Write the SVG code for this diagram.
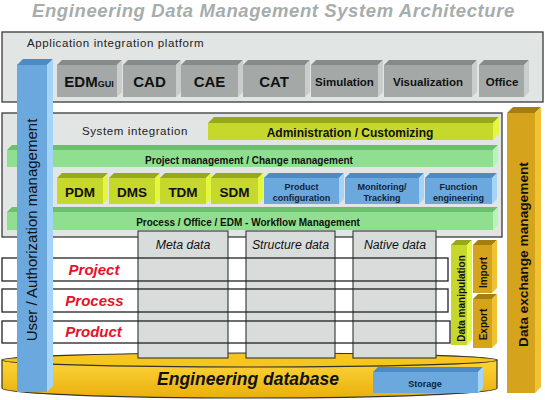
<svg xmlns="http://www.w3.org/2000/svg" width="545" height="400" viewBox="0 0 545 400">
<defs>
<linearGradient id="discG" x1="0" y1="0" x2="0" y2="1">
<stop offset="0" stop-color="#fdd43a"/>
<stop offset="1" stop-color="#eab00c"/>
</linearGradient>
</defs>
<style>
text{font-family:"Liberation Sans",Arial,sans-serif;fill:#111}
.panel{fill:#e1e5e4;stroke:#3a3a3a;stroke-width:1.3}
.gf{fill:#a4a9a8}.gt{fill:#858b8a}.gs{fill:#c9cdcc}
.yf{fill:#c6d82b}.yt{fill:#97a81a}.ys{fill:#e5f63e}
.nf{fill:#90df90}.nt{fill:#6cbf6c}.ns{fill:#b8f4b8}
.bf{fill:#6ba8de}.bt{fill:#4d8bc4}.bs{fill:#a4d4f7}
.of{fill:#d5a41c}.ot{fill:#a57e10}.os{fill:#f1c232}
.col{fill:#d8dcdb;stroke:#333;stroke-width:1.1}
.row{fill:none;stroke:#222;stroke-width:1.3}
.big{font-size:15px;font-weight:bold;text-anchor:middle}
.mid{font-size:11.5px;font-weight:bold;text-anchor:middle}
.sm{font-size:9px;font-weight:bold;text-anchor:middle;fill:#10233a}
.bar{font-size:10px;font-weight:bold;text-anchor:middle}
.lbl{font-size:11.5px;letter-spacing:0.6px;fill:#222}
.ital{font-size:12.3px;font-style:italic;text-anchor:middle}
.red{font-size:15px;font-weight:bold;font-style:italic;fill:#e8102a;text-anchor:middle}
.rot{font-weight:bold;text-anchor:middle}
</style>
<rect width="545" height="400" fill="#ffffff"/>
<text x="32" y="17" font-size="18.5" font-weight="bold" font-style="italic" letter-spacing="0.6" style="fill:#a6adac">Engineering Data Management System Architecture</text>

<g id="app-platform">
<rect class="panel" x="2" y="32" width="541" height="70"/>
<text class="lbl" x="27" y="47">Application integration platform</text>
</g>
<g id="edmgui"><rect class="gf" x="57" y="65" width="60" height="32"/><path class="gt" d="M57,65 l5,-5 h60 l-5,5 z"/><path class="gs" d="M117,65 l5,-5 v32 l-5,5 z"/><text class="big" x="89" y="86.5">EDM<tspan font-size="9">GUI</tspan></text></g>
<g id="cad"><rect class="gf" x="123" y="65" width="53" height="32"/><path class="gt" d="M123,65 l5,-5 h53 l-5,5 z"/><path class="gs" d="M176,65 l5,-5 v32 l-5,5 z"/><text class="big" x="149.5" y="86.5">CAD</text></g>
<g id="cae"><rect class="gf" x="181" y="65" width="57" height="32"/><path class="gt" d="M181,65 l5,-5 h57 l-5,5 z"/><path class="gs" d="M238,65 l5,-5 v32 l-5,5 z"/><text class="big" x="209.5" y="86.5">CAE</text></g>
<g id="cat"><rect class="gf" x="243" y="65" width="62" height="32"/><path class="gt" d="M243,65 l5,-5 h62 l-5,5 z"/><path class="gs" d="M305,65 l5,-5 v32 l-5,5 z"/><text class="big" x="274" y="86.5">CAT</text></g>
<g id="simulation"><rect class="gf" x="311" y="65" width="67" height="32"/><path class="gt" d="M311,65 l5,-5 h67 l-5,5 z"/><path class="gs" d="M378,65 l5,-5 v32 l-5,5 z"/><text class="mid" x="344.5" y="85.5">Simulation</text></g>
<g id="visualization"><rect class="gf" x="384" y="65" width="88" height="32"/><path class="gt" d="M384,65 l5,-5 h88 l-5,5 z"/><path class="gs" d="M472,65 l5,-5 v32 l-5,5 z"/><text class="mid" x="428" y="85.5">Visualization</text></g>
<g id="office"><rect class="gf" x="479" y="65" width="45" height="32"/><path class="gt" d="M479,65 l5,-5 h45 l-5,5 z"/><path class="gs" d="M524,65 l5,-5 v32 l-5,5 z"/><text class="mid" x="502" y="85.5">Office</text></g>

<g id="system-integration">
<rect class="panel" x="2" y="113" width="500" height="124"/>
<text class="lbl" x="82" y="135">System integration</text>
</g>
<g id="administration"><rect class="yf" x="208" y="123" width="285" height="17"/><path class="yt" d="M208,123 l6,-6 h285 l-6,6 z"/><path class="ys" d="M493,123 l6,-6 v17 l-6,6 z"/><text x="350" y="136.5" font-size="12" font-weight="bold" text-anchor="middle">Administration / Customizing</text></g>
<g id="project-management"><rect class="nf" x="7" y="150" width="486" height="17"/><path class="nt" d="M7,150 l5,-5 h486 l-5,5 z"/><path class="ns" d="M493,150 l5,-5 v17 l-5,5 z"/><text class="bar" x="249" y="163.5">Project management / Change management</text></g>
<g id="pdm"><rect class="yf" x="57" y="178" width="46" height="26"/><path class="yt" d="M57,178 l5,-5 h46 l-5,5 z"/><path class="ys" d="M103,178 l5,-5 v26 l-5,5 z"/><text x="80" y="196.5" font-size="13.5" font-weight="bold" text-anchor="middle">PDM</text></g>
<g id="dms"><rect class="yf" x="109" y="178" width="46" height="26"/><path class="yt" d="M109,178 l5,-5 h46 l-5,5 z"/><path class="ys" d="M155,178 l5,-5 v26 l-5,5 z"/><text x="132" y="196.5" font-size="13.5" font-weight="bold" text-anchor="middle">DMS</text></g>
<g id="tdm"><rect class="yf" x="160" y="178" width="46" height="26"/><path class="yt" d="M160,178 l5,-5 h46 l-5,5 z"/><path class="ys" d="M206,178 l5,-5 v26 l-5,5 z"/><text x="183" y="196.5" font-size="13.5" font-weight="bold" text-anchor="middle">TDM</text></g>
<g id="sdm"><rect class="yf" x="211" y="178" width="47" height="26"/><path class="yt" d="M211,178 l5,-5 h47 l-5,5 z"/><path class="ys" d="M258,178 l5,-5 v26 l-5,5 z"/><text x="234.5" y="196.5" font-size="13.5" font-weight="bold" text-anchor="middle">SDM</text></g>
<g id="product-configuration"><rect class="bf" x="264" y="178" width="75" height="26"/><path class="bt" d="M264,178 l5,-5 h75 l-5,5 z"/><path class="bs" d="M339,178 l5,-5 v26 l-5,5 z"/><text class="sm" x="301.5" y="189.5">Product</text><text class="sm" x="301.5" y="200.5">configuration</text></g>
<g id="monitoring-tracking"><rect class="bf" x="345" y="178" width="74" height="26"/><path class="bt" d="M345,178 l5,-5 h74 l-5,5 z"/><path class="bs" d="M419,178 l5,-5 v26 l-5,5 z"/><text class="sm" x="382" y="189.5">Monitoring/</text><text class="sm" x="382" y="200.5">Tracking</text></g>
<g id="function-engineering"><rect class="bf" x="425" y="178" width="67" height="26"/><path class="bt" d="M425,178 l5,-5 h67 l-5,5 z"/><path class="bs" d="M492,178 l5,-5 v26 l-5,5 z"/><text class="sm" x="458.5" y="189.5">Function</text><text class="sm" x="458.5" y="200.5">engineering</text></g>
<g id="workflow-management"><rect class="nf" x="7" y="212" width="486" height="18"/><path class="nt" d="M7,212 l5,-5 h486 l-5,5 z"/><path class="ns" d="M493,212 l5,-5 v18 l-5,5 z"/><text class="bar" x="248" y="225.5">Process / Office / EDM - Workflow Management</text></g>

<g id="engineering-database">
<path d="M2,360 V388 A247.5,10 0 0 0 497,388 V360 Z" fill="url(#discG)" stroke="#333" stroke-width="1.2"/>
<ellipse cx="249.5" cy="360" rx="247.5" ry="7" fill="#f6c61c" stroke="#333" stroke-width="1.2"/>
<text x="248" y="385" font-size="17.5" font-weight="bold" font-style="italic" text-anchor="middle">Engineering database</text>
</g>

<g id="meta-data"><rect class="col" x="138" y="231" width="90" height="127"/><text class="ital" x="183" y="249">Meta data</text></g>
<g id="structure-data"><rect class="col" x="246" y="231" width="89" height="127"/><text class="ital" x="290.5" y="249">Structure data</text></g>
<g id="native-data"><rect class="col" x="353" y="231" width="83" height="127"/><text class="ital" x="395" y="249">Native data</text></g>

<g id="project"><rect class="row" x="2" y="258" width="446" height="23"/><text class="red" x="94" y="274.5">Project</text></g>
<g id="process"><rect class="row" x="2" y="289" width="446" height="23"/><text class="red" x="94.5" y="306">Process</text></g>
<g id="product"><rect class="row" x="2" y="321" width="448" height="22"/><text class="red" x="93.5" y="337">Product</text></g>

<g id="data-manipulation"><rect class="yf" x="451" y="245" width="16" height="100"/><path class="yt" d="M451,245 l5,-5 h16 l-5,5 z"/><path class="ys" d="M467,245 l5,-5 v100 l-5,5 z"/><text class="rot" font-size="10" transform="translate(464.5,298.5) rotate(-90)">Data manipulation</text></g>
<g id="import"><rect class="of" x="473" y="245" width="19" height="48"/><path class="ot" d="M473,245 l5,-5 h19 l-5,5 z"/><path class="os" d="M492,245 l5,-5 v48 l-5,5 z"/><text class="rot" font-size="10" transform="translate(487,272.5) rotate(-90)">Import</text></g>
<g id="export"><rect class="of" x="473" y="299" width="19" height="49"/><path class="ot" d="M473,299 l5,-5 h19 l-5,5 z"/><path class="os" d="M492,299 l5,-5 v49 l-5,5 z"/><text class="rot" font-size="10" transform="translate(487,324.5) rotate(-90)">Export</text></g>

<g id="storage"><rect class="bf" x="373" y="372" width="105" height="21"/><path class="bt" d="M373,372 l5,-5 h105 l-5,5 z"/><path class="bs" d="M478,372 l5,-5 v21 l-5,5 z"/><text class="sm" x="425" y="387">Storage</text></g>

<g id="user-authorization-management"><rect class="bf" x="17" y="65" width="30" height="327"/><path class="bt" d="M17,65 l6,-6 h30 l-6,6 z"/><path class="bs" d="M47,65 l6,-6 v327 l-6,6 z"/><text font-size="15" text-anchor="middle" transform="translate(36.5,230) rotate(-90)">User / Authorization management</text></g>
<g id="data-exchange-management"><rect class="of" x="507" y="113" width="28" height="280"/><path class="ot" d="M507,113 l6,-6 h28 l-6,6 z"/><path class="os" d="M535,113 l6,-6 v280 l-6,6 z"/><text class="rot" font-size="13.7" transform="translate(528,254.5) rotate(-90)">Data exchange management</text></g>
</svg>
